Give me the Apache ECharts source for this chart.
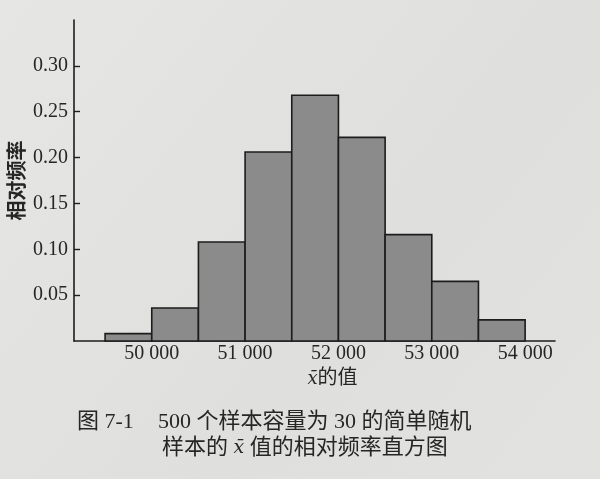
<!DOCTYPE html>
<html>
<head>
<meta charset="utf-8">
<script src="https://cdn.jsdelivr.net/npm/echarts@6/dist/echarts.min.js"></script>
<style>
html,body{margin:0;padding:0;background:#e3e3e1;}
#chart{width:600px;height:479px;}
</style>
</head>
<body>
<div id="chart"></div>
<script>
// Histogram bins (sample mean x̄ values) and relative frequencies
var binStarts = [49500, 50000, 50500, 51000, 51500, 52000, 52500, 53000, 53500];
var binEnds   = [50000, 50500, 51000, 51500, 52000, 52500, 53000, 53500, 54000];
var relFreq   = [0.008, 0.036, 0.108, 0.206, 0.268, 0.222, 0.116, 0.065, 0.023];
var xTickLabels = [50000, 51000, 52000, 53000, 54000];
var yTickLabels = [0.05, 0.10, 0.15, 0.20, 0.25, 0.30];
var yAxisTitle = '相对频率';
var xAxisTitle = '{i|x\u0304}的值';
var captionLabel = '图 7-1';
var captionLine1 = '500 个样本容量为 30 的简单随机';
var captionLine2 = '样本的 {i|x\u0304} 值的相对频率直方图';

var data = binStarts.map(function (s, i) { return [s, binEnds[i], relFreq[i]]; });

var chart = echarts.init(document.getElementById('chart'));
var serif = '"Liberation Serif","DejaVu Serif",serif';
var cjk = '"Liberation Serif","Noto Sans CJK SC",serif';
var ink = '#262626';
var italicX = {fontFamily: '"DejaVu Serif",serif', fontStyle: 'italic', fontSize: 18, color: ink};
var italicXCap = {fontFamily: '"DejaVu Serif",serif', fontStyle: 'italic', fontSize: 19, color: ink};

chart.setOption({
  backgroundColor: {
    type: 'linear', x: 0, y: 0, x2: 1, y2: 1,
    colorStops: [
      {offset: 0, color: '#e6e6e4'},
      {offset: 0.6, color: '#dfdfdd'},
      {offset: 1, color: '#e2e2e0'}
    ]
  },
  animation: false,
  grid: {left: 74, right: 45, top: 20, bottom: 138, outerBoundsMode: 'none', containLabel: false},
  xAxis: {
    type: 'value',
    min: 49167, max: 54320,
    name: xAxisTitle,
    nameLocation: 'middle',
    nameGap: 28,
    nameMoveOverlap: false,
    nameTextStyle: {fontFamily: cjk, fontSize: 20, color: ink, padding: [0, 0, 0, 36], rich: {i: italicX}},
    axisLine: {show: true, lineStyle: {color: '#1e1e1e', width: 1.6}},
    axisTick: {show: false},
    splitLine: {show: false},
    axisLabel: {
      customValues: xTickLabels,
      margin: 3,
      fontFamily: serif, fontSize: 20, color: ink,
      formatter: function (v) { return String(v).replace(/(\d{2})(\d{3})$/, '$1 $2'); }
    }
  },
  yAxis: {
    type: 'value',
    min: 0, max: 0.35,
    name: yAxisTitle,
    nameLocation: 'middle',
    nameRotate: 90,
    nameGap: 48,
    nameMoveOverlap: false,
    nameTextStyle: {fontFamily: '"Noto Sans CJK SC",sans-serif', fontSize: 20, fontWeight: 'bold', color: ink},
    axisLine: {show: true, lineStyle: {color: '#1e1e1e', width: 1.6}},
    axisTick: {show: true, inside: true, length: 6, customValues: yTickLabels, lineStyle: {color: '#1e1e1e', width: 1.4}},
    splitLine: {show: false},
    axisLabel: {
      customValues: yTickLabels,
      margin: 6,
      fontFamily: serif, fontSize: 20, color: ink,
      formatter: function (v) { return v.toFixed(2); }
    }
  },
  series: [{
    type: 'custom',
    data: data,
    encode: {x: [0, 1], y: 2},
    renderItem: function (params, api) {
      var p0 = api.coord([api.value(0), api.value(2)]);
      var p1 = api.coord([api.value(1), 0]);
      return {
        type: 'rect',
        shape: {x: p0[0], y: p0[1], width: p1[0] - p0[0], height: p1[1] - p0[1]},
        style: {fill: '#8b8b8b', stroke: '#1c1c1c', lineWidth: 1.6}
      };
    }
  }],
  graphic: [
    {type: 'text', left: 77, top: 411, style: {text: captionLabel, font: '22px ' + cjk, fill: ink}},
    {type: 'text', left: 158, top: 411, style: {text: captionLine1, font: '22px ' + cjk, fill: ink}},
    {type: 'text', left: 162, top: 437, style: {text: captionLine2, font: '22px ' + cjk, fill: ink, rich: {i: italicXCap}}}
  ]
});
</script>
</body>
</html>
